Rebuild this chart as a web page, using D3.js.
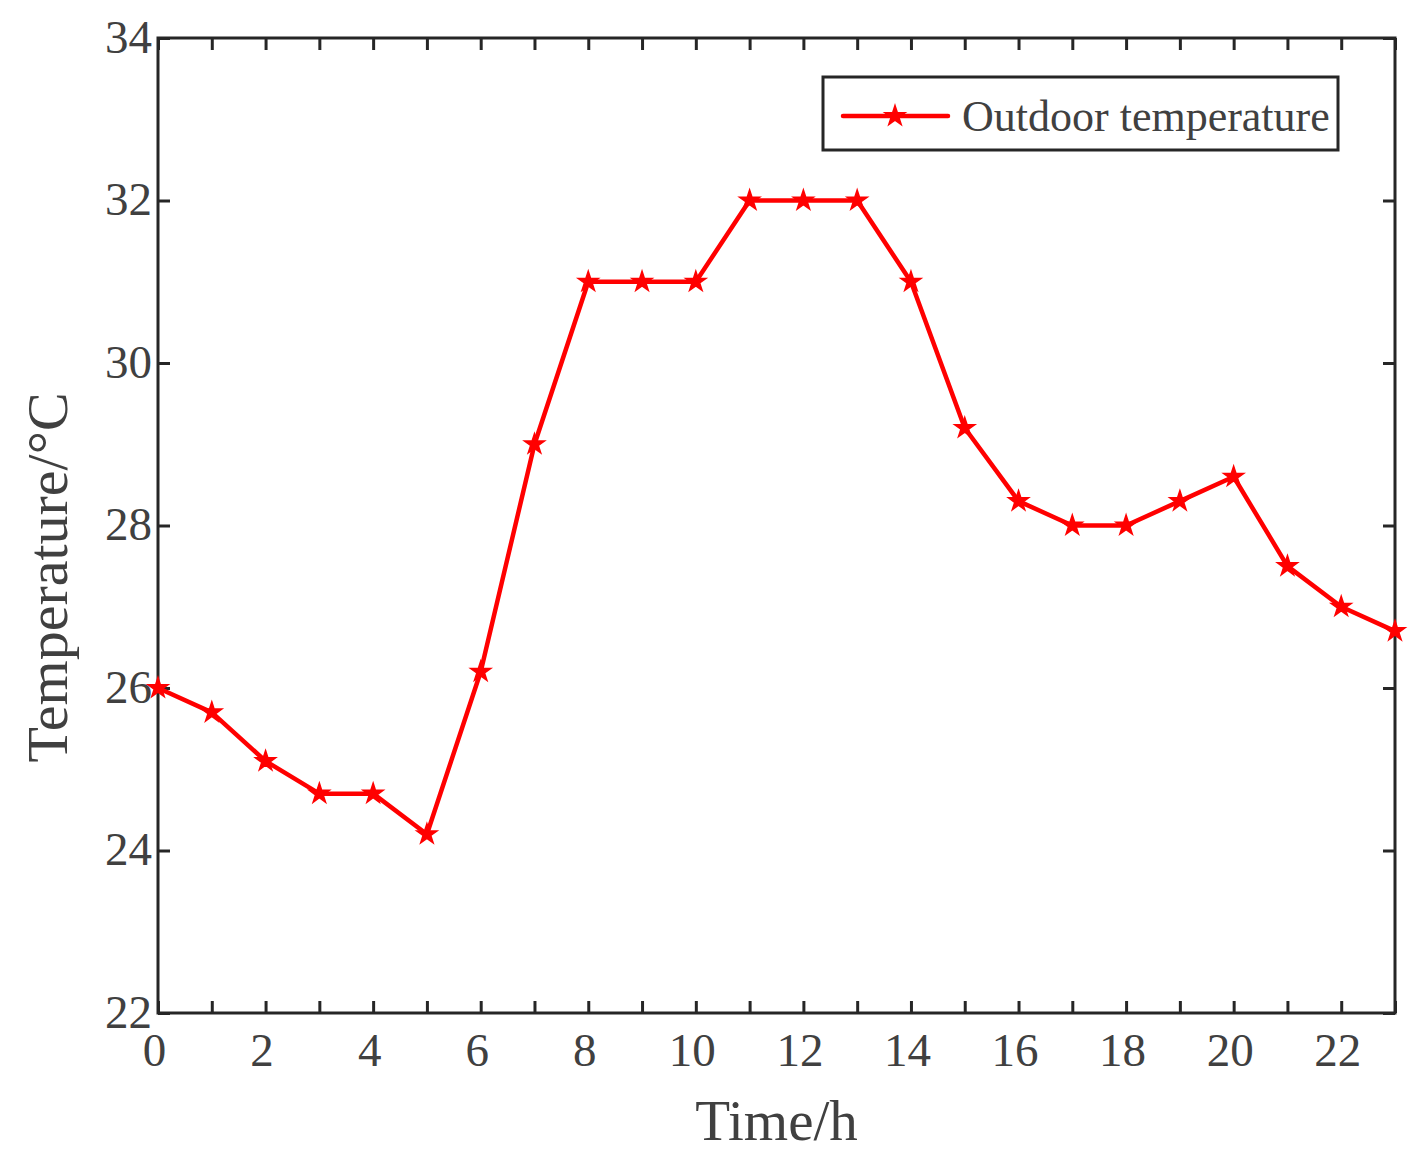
<!DOCTYPE html>
<html>
<head>
<meta charset="utf-8">
<script src="https://cdn.jsdelivr.net/npm/d3@7"></script>
<style>
  body { margin: 0; background: #fff; }
  text { font-family: "Liberation Serif", "Times New Roman", serif; fill: #404040; }
</style>
</head>
<body>
<svg id="chart" width="1416" height="1171"></svg>
<script>
'use strict';

var hours = d3.range(0, 24);
var temps = [26, 25.7, 25.1, 24.7, 24.7, 24.2, 26.2, 29, 31, 31, 31, 32, 32, 32, 31, 29.2, 28.3, 28, 28, 28.3, 28.6, 27.5, 27, 26.7];
var xTicks = [0, 2, 4, 6, 8, 10, 12, 14, 16, 18, 20, 22];
var yTicks = [22, 24, 26, 28, 30, 32, 34];
var seriesName = 'Outdoor temperature';

var margin = { left: 158, right: 21, top: 38, bottom: 158 };
var width = 1416, height = 1171;
var axisColor = '#262626';
var red = '#ff0000';

var svg = d3.select('#chart');

var x = d3.scaleLinear().domain([0, 23]).range([margin.left, width - margin.right]);
var y = d3.scaleLinear().domain([22, 34]).range([height - margin.bottom, margin.top]);

// inward ticks on all four sides
function styleAxis(g) {
  g.select('.domain').remove();
  g.selectAll('.tick line').attr('stroke', axisColor).attr('stroke-width', 3);
}

svg.append('g')
  .attr('transform', 'translate(0,' + y(22) + ')')
  .call(d3.axisBottom(x).tickValues(hours).tickSize(-12).tickFormat(function (d) {
    return xTicks.indexOf(d) >= 0 ? d : '';
  }).tickPadding(20))
  .call(styleAxis)
  .selectAll('text').attr('font-size', 47).attr('dx', -4).attr('fill', '#404040');

svg.append('g')
  .attr('transform', 'translate(0,' + y(34) + ')')
  .call(d3.axisTop(x).tickValues(hours).tickSize(-12).tickFormat(''))
  .call(styleAxis);

svg.append('g')
  .attr('transform', 'translate(' + x(0) + ',0)')
  .call(d3.axisLeft(y).tickValues(yTicks).tickSize(-12).tickPadding(6))
  .call(styleAxis)
  .selectAll('text').attr('font-size', 47).attr('dy', '0.3em').attr('fill', '#404040');

svg.append('g')
  .attr('transform', 'translate(' + x(23) + ',0)')
  .call(d3.axisRight(y).tickValues(yTicks).tickSize(-12).tickFormat(''))
  .call(styleAxis);

svg.append('rect')
  .attr('x', x(0)).attr('y', y(34))
  .attr('width', x(23) - x(0)).attr('height', y(22) - y(34))
  .attr('fill', 'none').attr('stroke', axisColor).attr('stroke-width', 3);

// series
var line = d3.line()
  .x(function (d, i) { return x(hours[i]); })
  .y(function (d) { return y(d); });

svg.append('path')
  .datum(temps)
  .attr('d', line)
  .attr('fill', 'none')
  .attr('stroke', red)
  .attr('stroke-width', 4.5)
  .attr('stroke-linejoin', 'round');

var star = d3.symbol().type(d3.symbolStar).size(125);

svg.selectAll('path.marker')
  .data(temps)
  .enter()
  .append('path')
  .attr('class', 'marker')
  .attr('d', star)
  .attr('fill', red)
  .attr('stroke', red)
  .attr('stroke-width', 1.5)
  .attr('transform', function (d, i) { return 'translate(' + [x(hours[i]), y(d)] + ')'; });

// axis titles
svg.append('text')
  .attr('x', (x(0) + x(23)) / 2)
  .attr('y', 1140)
  .attr('text-anchor', 'middle')
  .attr('font-size', 57)
  .text('Time/h');

svg.append('text')
  .attr('transform', 'translate(' + [67, (y(22) + y(34)) / 2 + 52] + ') rotate(-90)')
  .attr('text-anchor', 'middle')
  .attr('font-size', 58)
  .text('Temperature/\u00b0C');

// legend
var legend = svg.append('g').attr('transform', 'translate(823,77)');
legend.append('rect')
  .attr('width', 515).attr('height', 73)
  .attr('fill', '#fff').attr('stroke', axisColor).attr('stroke-width', 3);
legend.append('line')
  .attr('x1', 20).attr('x2', 125).attr('y1', 39).attr('y2', 39)
  .attr('stroke', red).attr('stroke-width', 4.5).attr('stroke-linecap', 'round');
legend.append('path')
  .attr('d', star)
  .attr('fill', red).attr('stroke', red).attr('stroke-width', 1.5)
  .attr('transform', 'translate(72,39)');
legend.append('text')
  .attr('x', 139).attr('y', 54)
  .attr('font-size', 44)
  .text(seriesName);
</script>
</body>
</html>
